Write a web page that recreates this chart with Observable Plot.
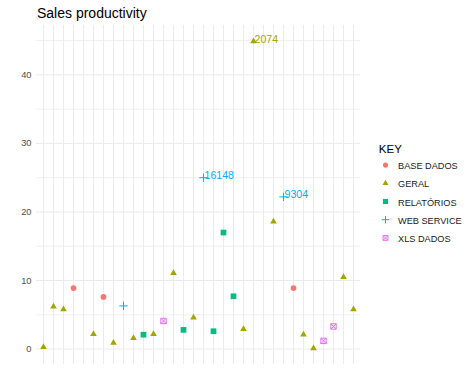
<!DOCTYPE html>
<html>
<head>
<meta charset="utf-8">
<script src="https://cdn.jsdelivr.net/npm/d3@7"></script>
<script src="https://cdn.jsdelivr.net/npm/@observablehq/plot@0.6"></script>
<style>
  html, body { margin: 0; padding: 0; background: #fff; }
  #chart { width: 474px; height: 372px; }
</style>
</head>
<body>
<div id="chart"></div>
<script>
// ---- data ----
const chartTitle = "Sales productivity";
const legendTitle = "KEY";
const categories = ["1","2","3","4","5","6","7","8","9","10","11","12","13","14","15","16",
  "17","18","19","20","21","22","23","24","25","26","27","28","29","30","31","32"];
const keys = ["BASE DADOS", "GERAL", "RELATÓRIOS", "WEB SERVICE", "XLS DADOS"];
const keyColors = ["#F8766D", "#A3A500", "#00BF7D", "#00B0F6", "#E76BF3"];
const openKeys = ["WEB SERVICE", "XLS DADOS"];
const yMajorTicks = [0, 10, 20, 30, 40];
const yMinorTicks = [5, 15, 25, 35, 45];

const pointCategory = ["1","2","3","4","6","7","8","9","10","11","12","13","14","15","16",
  "17","18","19","20","21","22","24","25","26","27","28","29","30","31","32"];
const pointKey = ["GERAL","GERAL","GERAL","BASE DADOS","GERAL","BASE DADOS","GERAL","WEB SERVICE",
  "GERAL","RELATÓRIOS","GERAL","XLS DADOS","GERAL","RELATÓRIOS","GERAL","WEB SERVICE",
  "RELATÓRIOS","RELATÓRIOS","RELATÓRIOS","GERAL","GERAL","GERAL","WEB SERVICE","BASE DADOS",
  "GERAL","GERAL","XLS DADOS","XLS DADOS","GERAL","GERAL"];
const pointValue = [0.3, 6.2, 5.8, 8.9, 2.2, 7.6, 0.9, 6.3,
  1.6, 2.1, 2.2, 4.1, 11.1, 2.8, 4.6, 25.0,
  2.6, 17.0, 7.7, 2.9, 44.9, 18.6, 22.2, 8.9,
  2.1, 0.1, 1.2, 3.3, 10.5, 5.8];
const pointLabel = ["","","","","","","","",
  "","","","","","","","16148",
  "","","","","2074","","9304","",
  "","","","","",""];

// ---- symbols (ggplot shapes 16, 17, 15, 3, 7) ----
const rr = (size) => Math.sqrt(size / Math.PI);
const shapeCircle = {draw(ctx, size) { const r = rr(size) * 0.95; ctx.moveTo(r, 0); ctx.arc(0, 0, r, 0, 2 * Math.PI); }};
const shapeTriangle = {draw(ctx, size) { const y = -rr(size) * 0.64, s3 = Math.sqrt(3);
  ctx.moveTo(0, y * 2); ctx.lineTo(-s3 * y, -y); ctx.lineTo(s3 * y, -y); ctx.closePath(); }};
const shapeSquare = {draw(ctx, size) { const w = rr(size) * 0.95; ctx.rect(-w, -w, 2 * w, 2 * w); }};
const shapePlus = {draw(ctx, size) { const w = rr(size) * 1.4;
  ctx.moveTo(-w, 0); ctx.lineTo(w, 0); ctx.moveTo(0, -w); ctx.lineTo(0, w); }};
const shapeSquareCross = {draw(ctx, size) { const w = rr(size) * 0.9;
  ctx.moveTo(-w, -w); ctx.lineTo(w, -w); ctx.lineTo(w, w); ctx.lineTo(-w, w); ctx.closePath();
  ctx.moveTo(-w, -w); ctx.lineTo(w, w); ctx.moveTo(w, -w); ctx.lineTo(-w, w); }};
const keySymbols = [shapeCircle, shapeTriangle, shapeSquare, shapePlus, shapeSquareCross];

// ---- table ----
const rows = pointCategory.map((c, i) => ({category: c, key: pointKey[i], value: pointValue[i], label: pointLabel[i]}));
const filledRows = rows.filter(d => !openKeys.includes(d.key));
const openRows = rows.filter(d => openKeys.includes(d.key));
const labelRows = rows.filter(d => d.label !== "");

const gridColor = "#EBEBEB";
const legendMarks = keys.flatMap((k, i) => {
  const cy = 139.6 + i * 18.2;
  const open = openKeys.includes(k);
  return [
    Plot.dot([k], {frameAnchor: "top-right", dx: 25, dy: cy, symbol: d => d,
      fill: open ? "none" : (d => d), stroke: open ? (d => d) : "none", strokeWidth: 1, r: 2.7}),
    Plot.text([k], {frameAnchor: "top-right", dx: 37.5, dy: cy + 4, text: d => d,
      textAnchor: "start", lineAnchor: "bottom", fontSize: 9.2, fill: "#1A1A1A"})
  ];
});

const svg = Plot.plot({
  width: 474,
  height: 372,
  marginTop: 25,
  marginBottom: 8,
  marginLeft: 36,
  marginRight: 114,
  style: {fontFamily: "'Liberation Sans', Arial, sans-serif", background: "#fff", overflow: "visible"},
  x: {type: "point", domain: categories, padding: 0.6, axis: null},
  y: {domain: [-2.25, 47.2], axis: null},
  color: {domain: keys, range: keyColors},
  symbol: {domain: keys, range: keySymbols},
  marks: [
    Plot.ruleY(yMinorTicks, {stroke: "#F0F0F0", strokeWidth: 1}),
    Plot.ruleY(yMajorTicks, {stroke: gridColor, strokeWidth: 1}),
    Plot.ruleX(categories, {stroke: gridColor, strokeWidth: 1}),
    Plot.axisY(yMajorTicks, {tickSize: 0, tickPadding: 5, fontSize: 9.3, color: "#4D4D4D", label: null}),
    Plot.dot(filledRows, {x: "category", y: "value", symbol: "key", fill: "key", stroke: "none", r: 3}),
    Plot.dot(openRows, {x: "category", y: "value", symbol: "key", stroke: "key", fill: "none", strokeWidth: 1, r: 3}),
    Plot.text(labelRows, {x: "category", y: "value", text: "label", fill: "key",
      textAnchor: "start", lineAnchor: "bottom", dx: 1, dy: 1.5, fontSize: 10.6}),
    Plot.text([chartTitle], {frameAnchor: "top-left", text: d => d, dx: 0.5, dy: -7.7,
      textAnchor: "start", lineAnchor: "bottom", fontSize: 14, fill: "#000"}),
    Plot.text([legendTitle], {frameAnchor: "top-right", text: d => d, dx: 18.3, dy: 127.7,
      textAnchor: "start", lineAnchor: "bottom", fontSize: 11.5, fill: "#000"}),
    ...legendMarks
  ]
});
document.getElementById("chart").appendChild(svg);
</script>
</body>
</html>
